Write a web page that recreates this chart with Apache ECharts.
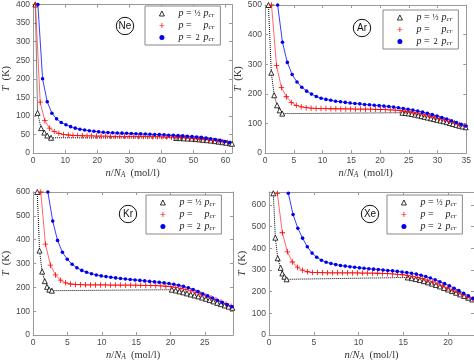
<!DOCTYPE html>
<html><head><meta charset="utf-8">
<script src="https://cdn.jsdelivr.net/npm/echarts@6/dist/echarts.min.js"></script>
<style>html,body{margin:0;padding:0;background:#fff}#c{width:474px;height:362px}</style>
</head><body><div id="c"></div>
<script>
// ---- Data: [n (mol/l), T (K)] ----
const ne_half = [[0.7,400],[1.4,108],[2.5,67],[3.5,55],[4.4,47],[5.6,41],
  [44.6,40.5],[45.8,40],[47.0,39.5],[48.2,39],[49.4,38.5],[50.6,37.5],[51.8,36.5],[53.0,35.5],[54.2,34.5],[55.4,33.5],[56.6,32],[57.8,30.5],[59.0,29],[60.2,27.5],[61.4,26],[62,25]];
const ne_cr = [[0.75,400],[2.21,137],[3.67,87],[5.13,67],[6.59,58],[8.05,53],[9.51,50],[10.97,48.5],[12.43,47.5],[13.89,47],[15.35,46.5],[16.81,46],[18.27,46],[19.73,45.5],[21.19,45.5],[22.65,45.5],[24.11,45],[25.57,45],[27.03,45],[28.49,45],[29.95,45],[31.41,45],[32.87,44.5],[34.33,44.5],[35.79,44.5],[37.25,44],[38.71,44],[40.17,43.5],[41.63,43],[43.09,42.5],[44.55,42],[46.01,41.5],[47.47,41],[48.93,40],[50.39,39],[51.85,38],[53.31,37],[54.77,35.5],[56.23,34],[57.69,32.5],[59.15,30.5],[60.61,28.5]];
const ne_2cr = [[1.5,400],[2.96,200],[4.41,138],[5.87,107],[7.32,92],[8.78,82],[10.24,76],[11.69,71],[13.15,67],[14.6,64],[16.06,62],[17.52,60],[18.97,58.5],[20.43,57],[21.88,56],[23.34,55],[24.8,54.5],[26.25,54],[27.71,53.5],[29.16,53],[30.62,52.5],[32.08,52],[33.53,51.5],[34.99,51],[36.44,50.5],[37.9,50],[39.36,49.5],[40.81,49],[42.27,48],[43.72,47.5],[45.18,47],[46.64,46],[48.09,45],[49.55,44],[51.0,43],[52.46,42],[53.92,40],[55.37,38.5],[56.83,36.5],[58.28,34],[59.74,31],[61.2,28]];

const ar_half = [[0.6,500],[1.1,271],[1.6,195],[2.1,161],[2.55,144],[3.0,133],
  [23.9,136],[24.45,135],[25.0,133.5],[25.55,131.5],[26.1,129.5],[26.65,127],[27.2,124.5],[27.75,122],[28.3,119.5],[28.85,117],[29.4,114.5],[29.95,112],[30.5,109.5],[31.05,107],[31.6,104],[32.15,101],[32.7,98],[33.25,95],[33.8,92],[34.35,89.5],[34.9,87]];
const ar_cr = [[1.14,500],[2.0,295],[2.86,221],[3.72,190],[4.58,171],[5.44,161],[6.3,156],[7.16,153],[8.02,151.5],[8.88,150.5],[9.74,150],[10.6,150],[11.46,149.5],[12.32,149.5],[13.18,149],[14.04,149],[14.9,149],[15.76,148.5],[16.62,148.5],[17.48,148],[18.34,148],[19.2,147.5],[20.06,147],[20.92,146.5],[21.78,145.5],[22.64,144.5],[23.5,143],[24.36,141],[25.22,138.5],[26.08,135.5],[26.94,132.5],[27.8,129],[28.66,125],[29.52,121],[30.38,116.5],[31.24,112],[32.1,107],[32.96,102],[33.82,96.5],[34.68,91]];
const ar_2cr = [[2.2,500],[3.04,374],[3.88,306],[4.72,265],[5.56,240],[6.4,222],[7.24,209],[8.08,199],[8.92,191],[9.76,185],[10.6,181],[11.44,178],[12.28,175],[13.12,173],[13.96,171],[14.8,169],[15.64,167],[16.48,166],[17.32,164],[18.16,163],[19.0,161.5],[19.84,160],[20.68,158.5],[21.52,157],[22.36,155],[23.2,153],[24.04,150.5],[24.88,148],[25.72,145],[26.56,141.5],[27.4,138],[28.24,134],[29.08,129.5],[29.92,125],[30.76,120],[31.6,115],[32.44,109],[33.28,103],[34.12,97],[34.96,91]];

const kr_half = [[0.61,600],[0.94,354],[1.32,266],[1.7,226],[2.03,202],[2.36,190],[2.74,186],
  [20.2,190],[20.75,187],[21.3,183],[21.85,179],[22.4,174.5],[22.95,170],[23.5,166],[24.05,162],[24.6,157],[25.15,152],[25.7,146.5],[26.25,141],[26.8,135],[27.35,129.5],[27.9,124],[28.45,119],[29.0,114]];
const kr_cr = [[1.12,600],[1.8,381],[2.53,293],[3.26,252],[3.99,230],[4.72,219],[5.45,214],[6.18,212],[6.91,211],[7.64,210.5],[8.37,210],[9.1,210],[9.83,210],[10.56,210],[11.29,209.5],[12.02,209.5],[12.75,209.5],[13.48,209],[14.21,209],[14.94,209],[15.67,208.5],[16.4,208],[17.13,207.5],[17.86,207],[18.59,206],[19.32,204.5],[20.05,203],[20.78,200],[21.51,196],[22.24,191],[22.97,185.5],[23.7,179],[24.43,172],[25.16,164],[25.89,156],[26.62,147.5],[27.35,139],[28.08,130],[28.81,121]];
const kr_2cr = [[2.15,600],[2.86,478],[3.56,397],[4.27,347],[4.97,318],[5.68,297],[6.38,282],[7.09,271],[7.79,263],[8.5,257],[9.2,252],[9.91,248],[10.61,245],[11.32,242],[12.02,239.5],[12.73,237],[13.43,235],[14.14,233],[14.84,231],[15.55,229],[16.25,227],[16.96,225],[17.66,223],[18.37,221],[19.07,218.5],[19.78,216],[20.48,213],[21.19,209],[21.89,204],[22.6,198],[23.3,191],[24.01,182],[24.71,173],[25.42,164],[26.12,155],[26.83,146],[27.53,137],[28.24,128],[28.94,119]];

const xe_half = [[0.48,654],[0.71,449],[0.97,354],[1.3,310],[1.49,284],[1.71,269],[1.97,257],
  [15.5,265.5],[15.95,262],[16.4,258],[16.85,253.5],[17.3,248.5],[17.75,243],[18.2,237],[18.65,230.5],[19.1,224],[19.55,217],[20.0,210],[20.45,202.5],[20.9,195],[21.35,187.5],[21.8,180],[22.25,172],[22.7,164]];
const xe_cr = [[0.93,654],[1.49,472],[2.05,384],[2.61,337],[3.17,313],[3.73,299],[4.29,292],[4.85,289],[5.41,288],[5.97,287.5],[6.53,287],[7.09,287],[7.65,287],[8.21,287],[8.77,287],[9.33,286.5],[9.89,286.5],[10.45,286],[11.01,286],[11.57,285.5],[12.13,285],[12.69,284],[13.25,283],[13.81,282],[14.37,280],[14.93,278],[15.49,275],[16.05,271],[16.61,266],[17.17,260],[17.73,253],[18.29,245],[18.85,236],[19.41,227],[19.97,217],[20.53,207],[21.09,196],[21.65,185],[22.21,175],[22.77,165]];
const xe_2cr = [[2.16,654],[2.69,556],[3.22,493],[3.75,447],[4.28,407],[4.81,378],[5.33,359],[5.86,345],[6.39,336],[6.92,330],[7.45,325],[7.98,321],[8.51,318],[9.04,315],[9.57,312.5],[10.1,310],[10.62,308],[11.15,306],[11.68,304],[12.21,302],[12.74,300],[13.27,298],[13.8,296],[14.33,293.5],[14.86,291],[15.39,288],[15.92,285],[16.45,281],[16.98,276],[17.51,270],[18.03,263],[18.56,255],[19.09,246],[19.62,237],[20.15,227],[20.68,216],[21.21,205],[21.74,193],[22.27,181],[22.79,169]];

// axis ranges [min, max, interval]
const neX = [0, 62, 10],  neY = [0, 400, 50];
const arX = [0, 35, 5],   arY = [0, 500, 100];
const krX = [0, 29.1, 5], krY = [0, 600, 100];
const xeX = [0, 22.9, 5], xeY = [0, 660, 100];
const elements = ['Ne', 'Ar', 'Kr', 'Xe'];

// ---- layout ----
const panels = [
  {x: neX, y: neY, d: [ne_half, ne_cr, ne_2cr], grid: {left: 26, top: 3, width: 206, height: 150}, circ: [125, 26], leg: [145, 6], yGap: 17},
  {x: arX, y: arY, d: [ar_half, ar_cr, ar_2cr], grid: {left: 265, top: 5, width: 204, height: 148}, circ: [362, 28], leg: [383, 10], yGap: 19},
  {x: krX, y: krY, d: [kr_half, kr_cr, kr_2cr], grid: {left: 27, top: 192, width: 206, height: 149}, circ: [128, 214], leg: [146, 195], yGap: 19},
  {x: xeX, y: xeY, d: [xe_half, xe_cr, xe_2cr], grid: {left: 269, top: 192, width: 205, height: 149}, circ: [370, 214], leg: [387, 195], yGap: 21}
];

const AX = '#9a9a9a', LAB = '#4a4a4a';
const serif = "'Liberation Serif','DejaVu Serif',serif";
const sans = "'Liberation Sans',Arial,sans-serif";
const plus = 'path://M3,0H4V3H7V4H4V7H3V4H0V3H3Z';
const triStyle = {color: '#fff', borderColor: '#000', borderWidth: 0.8};

const grids = [], xAxes = [], yAxes = [], series = [], legends = [], graphics = [];
panels.forEach((p, i) => {
  grids.push(Object.assign({containLabel: false}, p.grid));
  const hideMaxX = p.x[1] % p.x[2] !== 0, hideMaxY = p.y[1] % p.y[2] !== 0;
  xAxes.push({
    type: 'value', gridIndex: i, position: 'bottom', min: p.x[0], max: p.x[1], interval: p.x[2],
    axisLine: {onZero: false, lineStyle: {color: AX, width: 1}},
    axisTick: {inside: true, length: 3, lineStyle: {color: AX}},
    splitLine: {show: false},
    axisLabel: {color: LAB, fontSize: 8.5, fontFamily: sans, margin: 3, showMaxLabel: !hideMaxX},
    name: '{i|n}/{i|N}{s|A}  (mol/l)', nameLocation: 'middle', nameGap: 14,
    nameTextStyle: {color: '#333', fontFamily: serif, fontSize: 10.5,
      rich: {i: {fontStyle: 'italic', fontFamily: serif, fontSize: 10.5, color: '#333'},
             s: {fontStyle: 'italic', fontFamily: serif, fontSize: 7.5, color: '#333', padding: [4, 0, 0, 0]}}}
  });
  xAxes.push({
    type: 'value', gridIndex: i, position: 'top', min: p.x[0], max: p.x[1], interval: p.x[2],
    axisLine: {onZero: false, lineStyle: {color: AX, width: 1}},
    axisTick: {inside: true, length: 3, lineStyle: {color: AX}},
    splitLine: {show: false}, axisLabel: {show: false}
  });
  yAxes.push({
    type: 'value', gridIndex: i, position: 'left', min: p.y[0], max: p.y[1], interval: p.y[2],
    axisLine: {show: true, onZero: false, lineStyle: {color: AX, width: 1}},
    axisTick: {show: true, inside: true, length: 3, lineStyle: {color: AX}},
    splitLine: {show: false},
    axisLabel: {color: LAB, fontSize: 8.5, fontFamily: sans, margin: 3, showMaxLabel: !hideMaxY},
    name: '{i|T}  (K)', nameLocation: 'middle', nameGap: p.yGap,
    nameTextStyle: {color: '#333', fontFamily: serif, fontSize: 10.5,
      rich: {i: {fontStyle: 'italic', fontFamily: serif, fontSize: 10.5, color: '#333'}}}
  });
  yAxes.push({
    type: 'value', gridIndex: i, position: 'right', min: p.y[0], max: p.y[1], interval: p.y[2],
    axisLine: {show: true, onZero: false, lineStyle: {color: AX, width: 1}},
    axisTick: {show: true, inside: true, length: 3, lineStyle: {color: AX}},
    splitLine: {show: false}, axisLabel: {show: false}
  });
  const xi = 2 * i, yi = 2 * i;
  series.push({
    name: 'half', type: 'line', xAxisIndex: xi, yAxisIndex: yi, data: p.d[0], clip: false,
    symbol: 'triangle', symbolSize: 5,
    itemStyle: triStyle,
    lineStyle: {color: '#000', width: 1, type: 'dotted'}, z: 2
  });
  series.push({
    name: 'one', type: 'line', xAxisIndex: xi, yAxisIndex: yi, data: p.d[1], clip: false,
    symbol: plus, symbolSize: 5.5,
    itemStyle: {color: '#ff0000'},
    lineStyle: {color: '#ff4040', width: 0.8}, z: 3
  });
  series.push({
    name: 'two', type: 'line', xAxisIndex: xi, yAxisIndex: yi, data: p.d[2], clip: false,
    symbol: 'circle', symbolSize: 3.6,
    itemStyle: {color: '#0000ee'},
    lineStyle: {color: '#2525ff', width: 0.9}, z: 4
  });
  legends.push({
    orient: 'vertical', left: p.leg[0], top: p.leg[1],
    backgroundColor: '#fff', borderColor: '#888', borderWidth: 1, borderRadius: 0,
    padding: [2, 6, 2, 14], itemGap: 1, itemWidth: 5, itemHeight: 5,
    selectedMode: false,
    lineStyle: {width: 0, opacity: 0},
    data: [
      {name: 'half', icon: 'triangle', itemStyle: triStyle},
      {name: 'one', icon: plus, itemStyle: {color: '#ff0000'}},
      {name: 'two', icon: 'circle', itemStyle: {color: '#0000ee'}}
    ],
    formatter: function (name) {
      const f = name === 'half' ? '½' : (name === 'two' ? '2' : ' ');
      return '{g| }{i|p} = {f|' + f + '} {i|p}{s|cr}';
    },
    textStyle: {fontFamily: serif, fontSize: 10, color: '#111', lineHeight: 11,
      rich: {
        g: {width: 9},
        i: {fontFamily: serif, fontStyle: 'italic', fontSize: 10, color: '#111'},
        f: {fontFamily: serif, fontSize: 8.5, width: 7, align: 'center', color: '#111'},
        s: {fontFamily: serif, fontStyle: 'italic', fontSize: 7, color: '#111', padding: [4, 0, 0, 0]}
      }}
  });
  graphics.push({
    type: 'group', children: [
      {type: 'circle', shape: {cx: p.circ[0], cy: p.circ[1], r: 8.7}, style: {fill: '#fff', stroke: '#111', lineWidth: 1}, z: 100},
      {type: 'text', x: p.circ[0], y: p.circ[1], style: {text: elements[i], fill: '#111', font: '10px ' + sans, align: 'center', verticalAlign: 'middle'}, z: 101}
    ]
  });
});

const chart = echarts.init(document.getElementById('c'), null, {renderer: 'canvas'});
chart.setOption({
  animation: false,
  backgroundColor: '#fff',
  grid: grids, xAxis: xAxes, yAxis: yAxes, series: series, legend: legends, graphic: graphics
});
</script></body></html>
